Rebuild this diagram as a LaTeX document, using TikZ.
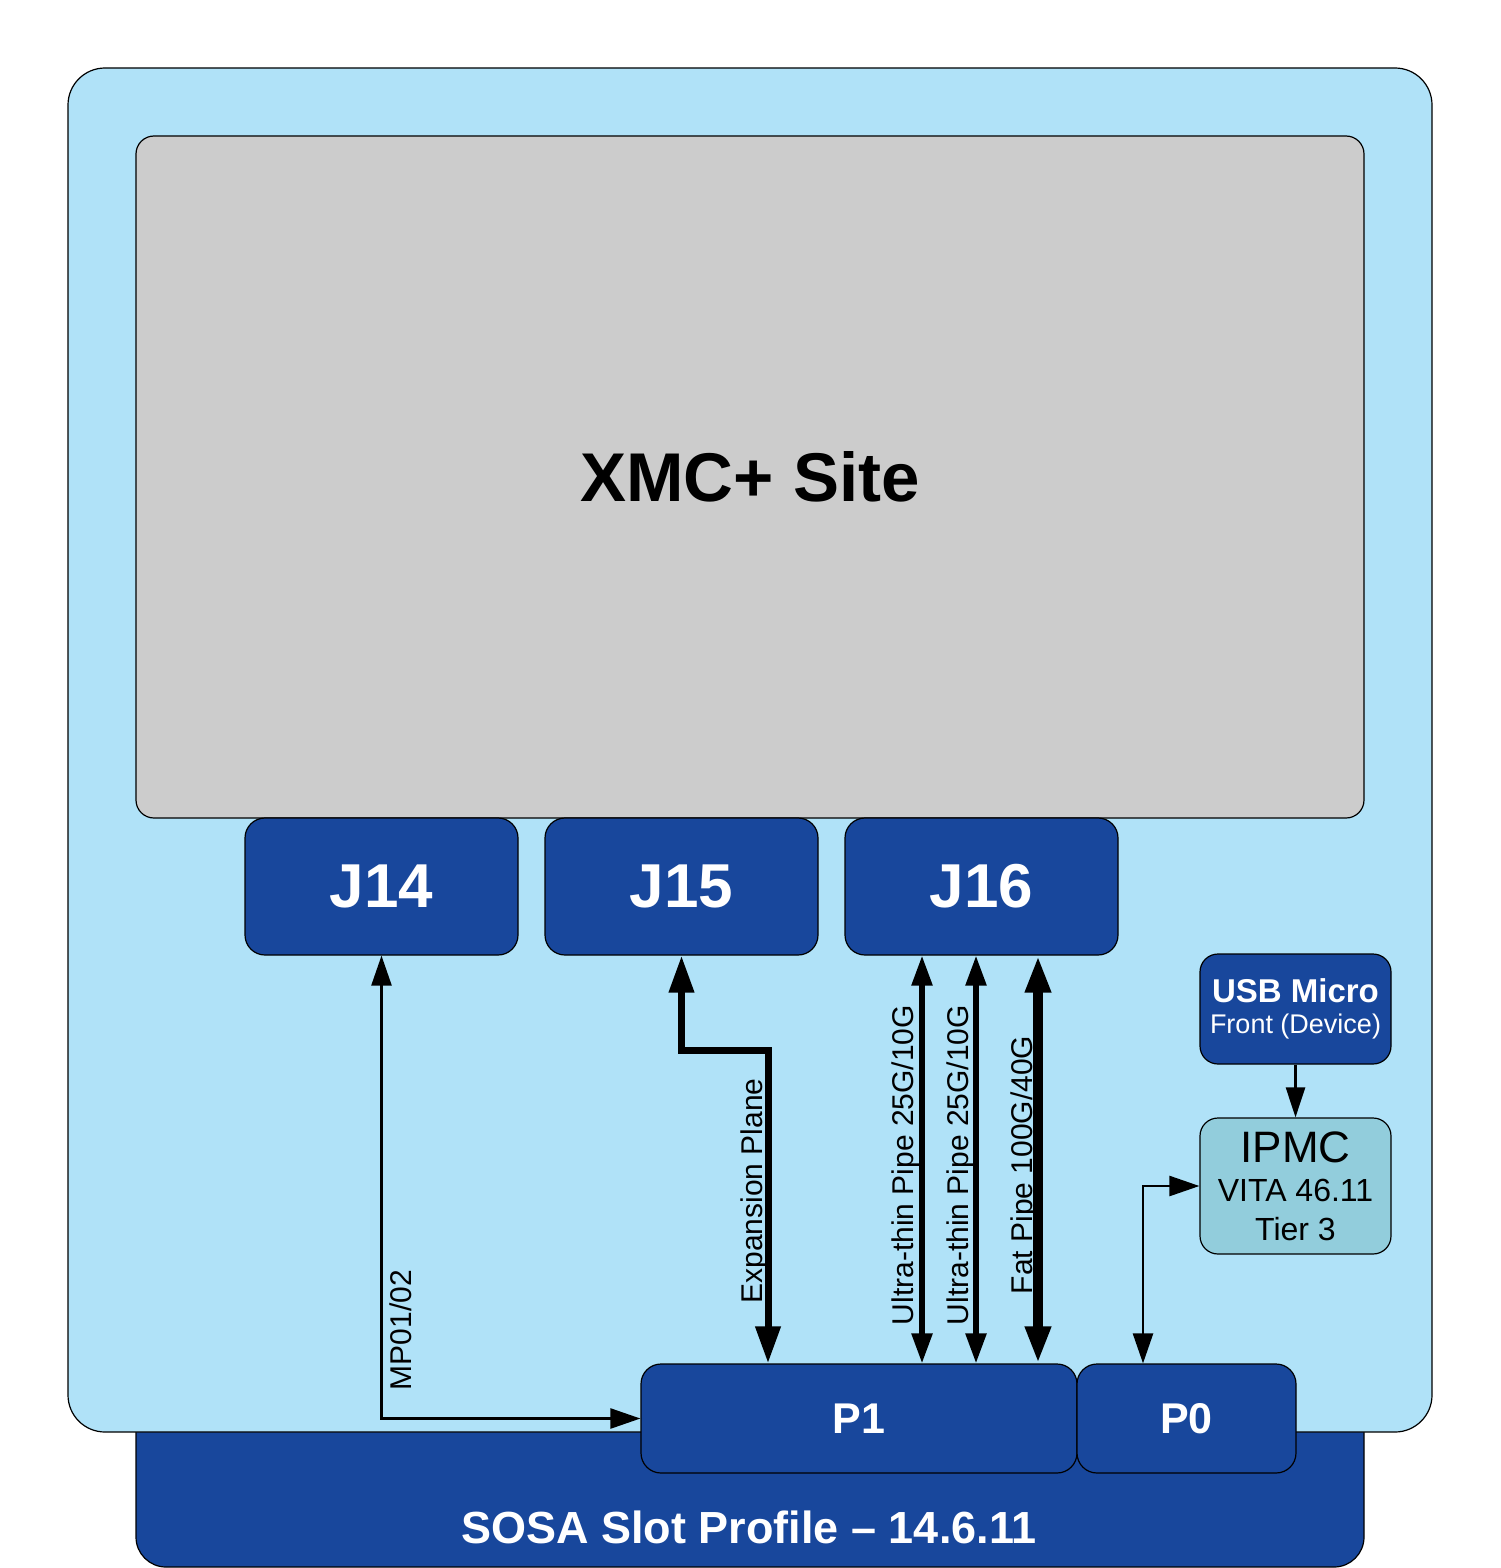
\documentclass[tikz,border=0pt]{standalone}
\usepackage{fontspec}
\setmainfont{Liberation Sans}
\usetikzlibrary{arrows.meta}
\definecolor{lightbg}{RGB}{176,226,248}
\definecolor{greysite}{RGB}{204,204,204}
\definecolor{darkblue}{RGB}{24,71,156}
\definecolor{ipmcfill}{RGB}{146,205,220}
\tikzset{
  conbox/.style={draw=black, line width=1.2pt, fill=darkblue, text=white, rounded corners=20pt, inner sep=0pt, font=\fontsize{62}{62}\selectfont\bfseries},
  thinarrow/.style={line width=2.5pt, {Triangle[length=30pt,width=20pt]}-{Triangle[length=30pt,width=20pt]}},
  thinone/.style={line width=2.5pt, -{Triangle[length=30pt,width=19pt]}},
  utarrow/.style={line width=5.5pt, {Triangle[length=30pt,width=20pt]}-{Triangle[length=30pt,width=20pt]}},
  exparrow/.style={line width=7pt, {Triangle[length=37pt,width=24pt]}-{Triangle[length=37pt,width=24pt]}},
  fatarrow/.style={line width=10pt, {Triangle[length=37pt,width=24pt]}-{Triangle[length=37pt,width=24pt]}},
  vlabel/.style={rotate=90, anchor=base, inner sep=0pt, font=\fontsize{30}{30}\selectfont},
}
\begin{document}
\begin{tikzpicture}[x=1pt,y=-1pt]
\useasboundingbox (0,0) rectangle (1500,1568);
% board
\node[draw=black, line width=1.2pt, fill=darkblue, rounded corners=30pt, minimum width=1228pt, minimum height=187pt, inner sep=0pt] (board) at (750,1473.5) {};
% outer card
\node[draw=black, line width=1.2pt, fill=lightbg, rounded corners=37pt, minimum width=1364pt, minimum height=1364pt, inner sep=0pt] (card) at (750,750) {};
\node[text=white, font=\fontsize{45}{45}\selectfont\bfseries, anchor=base] (sosa) at (749,1543) {SOSA Slot Profile -- 14.6.11};
% XMC site
\node[draw=black, line width=1.2pt, fill=greysite, rounded corners=18pt, minimum width=1228pt, minimum height=682pt, inner sep=0pt, font=\fontsize{69}{69}\selectfont\bfseries] (xmc) at (750,477) {XMC+ Site};
% connectors
\node[conbox, minimum width=273pt, minimum height=137pt] (j14) at (381.5,886.5) {J14};
\node[conbox, minimum width=273pt, minimum height=137pt] (j15) at (681.5,886.5) {J15};
\node[conbox, minimum width=273pt, minimum height=137pt] (j16) at (981.5,886.5) {J16};
\node[conbox, minimum width=436pt, minimum height=109pt, font=\fontsize{43}{43}\selectfont\bfseries] (p1) at (859,1418.5) {P1};
\node[conbox, minimum width=219pt, minimum height=109pt, font=\fontsize{43}{43}\selectfont\bfseries] (p0) at (1186.5,1418.5) {P0};
% USB and IPMC
\node[draw=black, line width=1.2pt, fill=darkblue, text=white, rounded corners=18pt, minimum width=191pt, minimum height=110pt, inner sep=0pt, align=center, font=\fontsize{33}{33}\selectfont] (usb) at (1295.5,1009) {\raisebox{-2pt}{\bfseries USB Micro}\\{\fontsize{27}{33}\selectfont Front (Device)}};
\node[draw=black, line width=1.2pt, fill=ipmcfill, rounded corners=18pt, minimum width=191pt, minimum height=136pt, inner sep=0pt, align=center, font=\fontsize{32}{39}\selectfont] (ipmc) at (1295.5,1186) {{\fontsize{44}{40}\selectfont IPMC}\\VITA 46.11\\Tier 3};
% helper coordinates
\coordinate (xu1) at (922,0);
\coordinate (xu2) at (976,0);
\coordinate (xfat) at (1038,0);
\coordinate (xp0) at (1143,0);
\coordinate (ebend) at (768,1050);
% arrows
\draw[thinarrow] (j14.south) |- (p1.west);
\draw[exparrow] (j15.south) |- (ebend) -- (ebend |- p1.north);
\draw[utarrow] (j16.south -| xu1) -- (p1.north -| xu1);
\draw[utarrow] (j16.south -| xu2) -- (p1.north -| xu2);
\draw[fatarrow] (j16.south -| xfat) -- (p1.north -| xfat);
\draw[thinone] (usb.south) -- (ipmc.north);
\draw[thinarrow] (ipmc.west) -| (p0.north -| xp0);
% labels
\node[vlabel] (lmp) at (411,1330) {MP01/02};
\node[vlabel] (lexp) at (762,1191) {Expansion Plane};
\node[vlabel] (lut1) at (913,1165) {Ultra-thin Pipe 25G/10G};
\node[vlabel] (lut2) at (968,1165) {Ultra-thin Pipe 25G/10G};
\node[vlabel] (lfat) at (1032,1165) {Fat Pipe 100G/40G};
\end{tikzpicture}
\end{document}
